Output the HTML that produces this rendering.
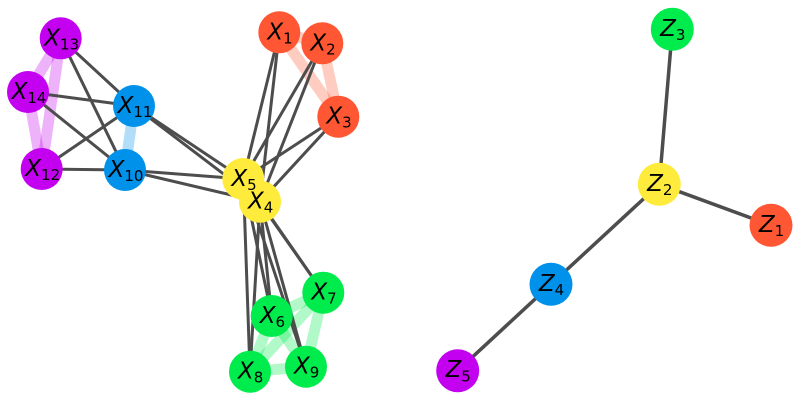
<!DOCTYPE html>
<html><head><meta charset="utf-8"><style>
html,body{margin:0;padding:0;background:#fff;}
svg{display:block;}
text{font-family:"DejaVu Sans","Liberation Sans",sans-serif;fill:#000;}
.m{font-style:italic;font-size:23px;}
.s{font-size:15px;}
</style></head><body>
<svg width="800" height="400" viewBox="0 0 800 400" xmlns="http://www.w3.org/2000/svg">
<g stroke-width="11" stroke-opacity="0.3" stroke-linecap="butt">
 <g stroke="#c300f0">
  <line x1="60.7" y1="38.3" x2="28" y2="92"/>
  <line x1="60.7" y1="38.3" x2="41.7" y2="169"/>
  <line x1="28" y1="92" x2="41.7" y2="169"/>
 </g>
 <line stroke="#0091ea" x1="134" y1="106" x2="125" y2="170"/>
 <g stroke="#ff5733">
  <line x1="279.3" y1="32.3" x2="322.3" y2="43.3"/>
  <line x1="279.3" y1="32.3" x2="338.3" y2="116.7"/>
  <line x1="322.3" y1="43.3" x2="338.3" y2="116.7"/>
 </g>
 <line stroke="#ffeb3b" x1="243.3" y1="179" x2="260" y2="201.7"/>
 <g stroke="#00ec4c">
  <line x1="323.3" y1="292.7" x2="271.7" y2="316"/>
  <line x1="323.3" y1="292.7" x2="250" y2="371.7"/>
  <line x1="323.3" y1="292.7" x2="306" y2="366.7"/>
  <line x1="271.7" y1="316" x2="250" y2="371.7"/>
  <line x1="271.7" y1="316" x2="306" y2="366.7"/>
  <line x1="250" y1="371.7" x2="306" y2="366.7"/>
 </g>
</g>
<g stroke="#4d4d4d" stroke-width="3">
 <line x1="60.7" y1="38.3" x2="134" y2="106"/>
 <line x1="60.7" y1="38.3" x2="125" y2="170"/>
 <line x1="28" y1="92" x2="134" y2="106"/>
 <line x1="28" y1="92" x2="125" y2="170"/>
 <line x1="41.7" y1="169" x2="134" y2="106"/>
 <line x1="41.7" y1="169" x2="125" y2="170"/>
 <line x1="134" y1="106" x2="243.3" y2="179"/>
 <line x1="134" y1="106" x2="260" y2="201.7"/>
 <line x1="125" y1="170" x2="243.3" y2="179"/>
 <line x1="125" y1="170" x2="260" y2="201.7"/>
 <line x1="279.3" y1="32.3" x2="243.3" y2="179"/>
 <line x1="279.3" y1="32.3" x2="260" y2="201.7"/>
 <line x1="322.3" y1="43.3" x2="243.3" y2="179"/>
 <line x1="322.3" y1="43.3" x2="260" y2="201.7"/>
 <line x1="338.3" y1="116.7" x2="243.3" y2="179"/>
 <line x1="338.3" y1="116.7" x2="260" y2="201.7"/>
 <line x1="243.3" y1="179" x2="271.7" y2="316"/>
 <line x1="243.3" y1="179" x2="323.3" y2="292.7"/>
 <line x1="243.3" y1="179" x2="250" y2="371.7"/>
 <line x1="243.3" y1="179" x2="306" y2="366.7"/>
 <line x1="260" y1="201.7" x2="271.7" y2="316"/>
 <line x1="260" y1="201.7" x2="323.3" y2="292.7"/>
 <line x1="260" y1="201.7" x2="250" y2="371.7"/>
 <line x1="260" y1="201.7" x2="306" y2="366.7"/>
 <line x1="672.3" y1="29.3" x2="659.3" y2="184.3" stroke-width="3.5"/>
 <line x1="659.3" y1="184.3" x2="771" y2="225.3" stroke-width="3.5"/>
 <line x1="659.3" y1="184.3" x2="551" y2="284.3" stroke-width="3.5"/>
 <line x1="551" y1="284.3" x2="457.7" y2="370.7" stroke-width="3.5"/>
</g>
<g>
 <circle cx="279.3" cy="32.3" r="21" fill="#ff5733"/>
 <circle cx="322.3" cy="43.3" r="21" fill="#ff5733"/>
 <circle cx="338.3" cy="116.7" r="21" fill="#ff5733"/>
 <circle cx="243.3" cy="179" r="21" fill="#ffeb3b"/>
 <circle cx="260" cy="201.7" r="21" fill="#ffeb3b"/>
 <circle cx="271.7" cy="316" r="21" fill="#00ec4c"/>
 <circle cx="323.3" cy="292.7" r="21" fill="#00ec4c"/>
 <circle cx="250" cy="371.7" r="21" fill="#00ec4c"/>
 <circle cx="306" cy="366.7" r="21" fill="#00ec4c"/>
 <circle cx="125" cy="170" r="21" fill="#0091ea"/>
 <circle cx="134" cy="106" r="21" fill="#0091ea"/>
 <circle cx="41.7" cy="169" r="21" fill="#c300f0"/>
 <circle cx="60.7" cy="38.3" r="21" fill="#c300f0"/>
 <circle cx="28" cy="92" r="21" fill="#c300f0"/>

 <circle cx="771" cy="225.3" r="21.5" fill="#ff5733"/>
 <circle cx="659.3" cy="184.3" r="21.5" fill="#ffeb3b"/>
 <circle cx="672.3" cy="29.3" r="21.5" fill="#00ec4c"/>
 <circle cx="551" cy="284.3" r="21.5" fill="#0091ea"/>
 <circle cx="457.7" cy="370.7" r="21.5" fill="#c300f0"/>
</g>
<g text-anchor="middle">
 <text x="280" y="39.3"><tspan class="m">X</tspan><tspan class="s" dy="4">1</tspan></text>
 <text x="323" y="50.3"><tspan class="m">X</tspan><tspan class="s" dy="4">2</tspan></text>
 <text x="339" y="123.7"><tspan class="m">X</tspan><tspan class="s" dy="4">3</tspan></text>
 <text x="244" y="186"><tspan class="m">X</tspan><tspan class="s" dy="4">5</tspan></text>
 <text x="260.7" y="208.7"><tspan class="m">X</tspan><tspan class="s" dy="4">4</tspan></text>
 <text x="272.4" y="323"><tspan class="m">X</tspan><tspan class="s" dy="4">6</tspan></text>
 <text x="324" y="299.7"><tspan class="m">X</tspan><tspan class="s" dy="4">7</tspan></text>
 <text x="250.7" y="378.7"><tspan class="m">X</tspan><tspan class="s" dy="4">8</tspan></text>
 <text x="306.7" y="373.7"><tspan class="m">X</tspan><tspan class="s" dy="4">9</tspan></text>
 <text x="126" y="177"><tspan class="m">X</tspan><tspan class="s" dy="4">10</tspan></text>
 <text x="135" y="113"><tspan class="m">X</tspan><tspan class="s" dy="4">11</tspan></text>
 <text x="42.7" y="176"><tspan class="m">X</tspan><tspan class="s" dy="4">12</tspan></text>
 <text x="61.7" y="45.3"><tspan class="m">X</tspan><tspan class="s" dy="4">13</tspan></text>
 <text x="29" y="99"><tspan class="m">X</tspan><tspan class="s" dy="4">14</tspan></text>

 <text x="771.5" y="231.8"><tspan class="m">Z</tspan><tspan class="s" dy="4.3">1</tspan></text>
 <text x="659.8" y="190.8"><tspan class="m">Z</tspan><tspan class="s" dy="4.3">2</tspan></text>
 <text x="672.8" y="35.8"><tspan class="m">Z</tspan><tspan class="s" dy="4.3">3</tspan></text>
 <text x="551.5" y="290.8"><tspan class="m">Z</tspan><tspan class="s" dy="4.3">4</tspan></text>
 <text x="458.2" y="377.2"><tspan class="m">Z</tspan><tspan class="s" dy="4.3">5</tspan></text>
</g>
</svg>
</body></html>
